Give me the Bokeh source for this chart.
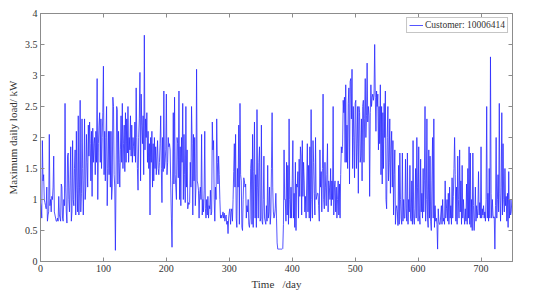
from bokeh.plotting import figure
from bokeh.models import Range1d, LinearAxis, FixedTicker, Legend, LegendItem
from bokeh.embed import file_html
from bokeh.resources import INLINE

series_label = "Customer: 10006414"
x_label = "Time\u00a0\u00a0\u00a0/day"
y_label = "Maximum daily load/ kW"
x_ticks = [0, 100, 200, 300, 400, 500, 600, 700]
y_ticks = [0, 0.5, 1, 1.5, 2, 2.5, 3, 3.5, 4]

# daily maximum load (kW), 10 days per row
load = [
    0.95, 0.9, 0.7, 1.95, 1.3, 1.4, 1.0, 0.95, 0.9, 0.85,
    1.2, 0.65, 0.75, 0.8, 2.05, 0.9, 1.0, 0.8, 1.05, 1.0,
    1.2, 1.7, 0.8, 0.75, 0.7, 0.65, 0.65, 0.7, 0.65, 1.05,
    0.75, 0.7, 0.65, 1.25, 1.2, 0.7, 0.65, 1.0, 0.9, 2.55,
    1.2, 0.8, 0.62, 1.7, 1.75, 1.0, 0.8, 1.3, 1.85, 0.65,
    0.8, 1.95, 1.0, 0.9, 1.5, 1.8, 0.75, 2.1, 1.2, 0.8,
    2.35, 0.75, 1.2, 2.6, 0.8, 1.1, 2.3, 1.5, 0.75, 1.3,
    2.3, 1.0, 1.2, 2.05, 1.6, 1.2, 2.2, 1.7, 2.25, 1.9,
    1.3, 2.1, 1.05, 2.15, 1.6, 1.9, 2.0, 1.4, 2.1, 1.6,
    2.95, 1.0, 1.9, 2.2, 2.4, 1.6, 2.3, 1.5, 2.0, 2.4,
    3.15, 1.4, 2.1, 1.3, 2.0, 2.5, 0.9, 1.5, 2.1, 1.4,
    2.1, 1.2, 2.1, 1.0, 1.2, 2.65, 2.5, 1.4, 1.2, 0.18,
    1.3, 2.5, 2.45, 1.25, 2.1, 1.6, 1.2, 1.8, 2.35, 1.6,
    2.55, 1.5, 1.9, 2.2, 1.45, 2.4, 1.6, 2.3, 1.75, 2.5,
    1.6, 2.0, 1.8, 2.35, 1.7, 2.2, 1.6, 2.0, 1.85, 1.7,
    2.25, 1.6, 2.8, 2.0, 1.5, 1.15, 2.0, 2.3, 3.05, 1.3,
    2.7, 2.2, 1.9, 2.35, 1.4, 3.65, 1.8, 2.3, 2.0, 2.4,
    1.6, 2.1, 1.5, 1.9, 0.75, 2.0, 1.6, 2.1, 1.2, 1.9,
    1.3, 2.0, 1.5, 1.85, 1.4, 1.7, 1.95, 1.5, 1.4, 1.6,
    1.9, 2.35, 1.5, 0.95, 2.0, 1.45, 2.75, 1.5, 1.6, 1.8,
    2.7, 1.4, 1.6, 2.0, 1.85, 1.9, 1.8, 1.2, 0.7, 0.23,
    1.3, 2.4, 1.25, 2.65, 1.4, 1.2, 1.0, 2.0, 1.9, 1.35,
    2.75, 1.0, 1.85, 0.9, 2.0, 1.6, 2.55, 1.0, 2.05, 1.4,
    0.95, 2.5, 1.2, 1.8, 0.85, 0.95, 0.92, 0.95, 1.6, 1.2,
    2.5, 1.9, 0.75, 2.05, 1.3, 2.0, 0.9, 1.2, 3.1, 1.3,
    1.25, 1.15, 0.7, 1.1, 1.2, 1.0, 2.05, 0.75, 1.0, 0.8,
    1.15, 2.1, 0.85, 0.7, 1.0, 0.75, 1.05, 0.7, 0.9, 0.85,
    1.15, 0.75, 0.8, 2.25, 1.8, 1.95, 1.0, 0.65, 1.2, 1.0,
    2.3, 1.6, 1.25, 1.7, 1.4, 1.0, 0.7, 0.75, 0.7, 0.75,
    0.8, 0.7, 0.78, 0.65, 0.72, 0.75, 0.6, 0.65, 0.45, 0.7,
    0.8, 0.85, 0.6, 0.8, 0.85, 0.65, 1.0, 1.45, 1.9, 1.2,
    2.05, 0.7, 0.55, 1.5, 1.2, 2.2, 0.6, 2.55, 1.4, 1.3,
    0.55, 0.5, 1.0, 1.35, 1.3, 1.2, 1.25, 0.7, 0.9, 0.8,
    1.0, 0.6, 0.55, 0.7, 1.5, 1.65, 0.6, 2.05, 0.55, 1.45,
    2.25, 0.7, 1.4, 0.55, 2.45, 1.2, 0.7, 1.6, 1.85, 0.65,
    0.7, 2.2, 0.65, 0.6, 1.0, 1.7, 0.7, 0.65, 0.6, 0.9,
    0.65, 1.55, 0.7, 0.8, 1.2, 0.6, 0.75, 1.5, 2.4, 1.2,
    0.8, 0.7, 0.75, 0.85, 1.1, 0.7, 0.3, 0.2, 0.2, 0.2,
    0.2, 0.2, 0.2, 0.2, 0.2, 0.21, 0.6, 1.8, 1.0, 1.0,
    0.65, 1.6, 0.75, 1.55, 0.6, 2.3, 1.0, 0.7, 1.2, 0.7,
    1.3, 1.95, 0.7, 1.1, 0.55, 1.6, 0.5, 1.25, 1.2, 1.45,
    0.7, 1.65, 1.05, 1.85, 1.7, 0.75, 1.95, 1.05, 1.6, 1.3,
    0.8, 1.05, 0.7, 1.25, 1.9, 0.8, 1.55, 0.7, 1.85, 0.65,
    2.45, 1.0, 0.7, 1.95, 1.6, 1.1, 0.75, 2.0, 1.0, 1.05,
    1.1, 1.1, 0.9, 0.65, 1.8, 1.2, 1.45, 0.8, 1.5, 2.7,
    1.0, 0.85, 1.6, 1.2, 0.9, 1.4, 1.9, 0.8, 1.3, 1.2,
    1.0, 1.5, 0.9, 1.3, 1.0, 2.5, 0.75, 1.2, 1.3, 0.8,
    1.2, 0.7, 1.0, 1.3, 0.75, 1.25, 0.7, 1.4, 1.85, 1.75,
    1.85, 2.6, 2.4, 2.65, 1.6, 2.85, 1.6, 2.2, 1.5, 2.55,
    2.8, 1.25, 2.9, 2.95, 2.3, 3.1, 1.5, 2.5, 2.0, 1.35,
    2.55, 2.6, 1.5, 1.9, 2.5, 1.1, 2.5, 2.4, 1.6, 1.7,
    2.3, 1.3, 2.5, 2.6, 1.6, 2.3, 2.95, 2.0, 2.35, 3.2,
    2.25, 2.5, 2.35, 1.05, 2.4, 2.85, 2.5, 2.65, 2.7, 2.6,
    2.7, 3.5, 2.65, 2.1, 2.75, 2.5, 2.7, 1.8, 2.5, 1.9,
    2.85, 1.4, 2.5, 1.25, 2.4, 1.5, 2.55, 2.0, 2.75, 1.0,
    0.85, 2.0, 2.5, 1.3, 1.6, 2.3, 1.1, 1.8, 2.1, 1.2,
    1.95, 0.75, 1.4, 1.8, 0.6, 0.85, 0.9, 0.8, 0.58, 1.55,
    0.6, 1.75, 1.0, 0.7, 0.6, 1.75, 0.65, 1.0, 0.7, 0.7,
    1.65, 0.85, 0.65, 1.75, 0.6, 1.0, 0.8, 1.55, 0.7, 0.65,
    1.3, 0.6, 1.95, 0.7, 0.6, 0.85, 1.5, 0.7, 2.0, 1.2,
    0.65, 1.85, 0.75, 0.6, 1.65, 0.8, 1.1, 0.7, 1.5, 0.8,
    1.3, 2.5, 0.65, 1.0, 2.3, 0.7, 0.55, 1.8, 0.7, 1.7,
    0.65, 0.5, 1.3, 2.0, 0.7, 2.3, 0.55, 0.9, 0.65, 0.7,
    0.6, 0.2, 0.85, 0.65, 0.6, 0.6, 0.75, 0.9, 0.6, 1.0,
    0.65, 0.7, 0.6, 1.3, 0.7, 0.85, 1.0, 0.65, 1.1, 0.6,
    1.2, 0.7, 0.9, 0.6, 1.35, 0.7, 1.05, 1.5, 2.0, 1.4,
    0.65, 1.2, 0.6, 1.7, 1.0, 0.7, 1.8, 0.8, 1.3, 0.6,
    1.55, 0.7, 1.0, 0.75, 0.6, 0.85, 0.65, 1.25, 0.6, 1.5,
    0.7, 1.85, 0.6, 1.75, 0.55, 1.0, 0.5, 1.75, 0.9, 0.5,
    0.7, 1.2, 0.65, 0.9, 0.7, 0.85, 1.45, 0.75, 0.95, 0.7,
    1.85, 0.7, 0.85, 0.75, 0.9, 0.7, 0.8, 0.65, 1.0, 2.5,
    0.7, 1.1, 0.65, 1.5, 0.7, 3.3, 1.1, 0.7, 1.0, 0.75,
    0.7, 0.72, 0.2, 0.9, 2.0, 0.7, 1.0, 1.4, 0.8, 2.55,
    1.1, 0.65, 1.2, 2.4, 0.75, 1.9, 1.0, 0.8, 1.5, 0.9,
    1.05, 0.65, 1.1, 0.55, 1.45, 0.7, 1.0, 0.75, 0.8, 1.0,
]
days = list(range(len(load)))

FONT = "Liberation Serif"
FRAME = "#8c8c8c"
TEXT = "#333333"

p = figure(width=550, height=296, output_backend="svg", toolbar_location=None,
           x_range=Range1d(0, 750), y_range=Range1d(0, 4),
           min_border_left=40, min_border_right=38, min_border_top=13, min_border_bottom=35)
p.grid.visible = False
p.outline_line_color = FRAME
p.background_fill_color = "white"

line = p.line(days, load, line_color="#2a2aff", line_width=0.8)

for ax in (p.xaxis[0], p.yaxis[0]):
    ax.axis_line_color = FRAME
    ax.major_tick_line_color = FRAME
    ax.major_tick_in = 4
    ax.major_tick_out = 0
    ax.minor_tick_line_color = None
    ax.major_label_text_font = FONT
    ax.major_label_text_font_size = "10px"
    ax.major_label_text_color = TEXT
    ax.axis_label_text_font = FONT
    ax.axis_label_text_font_size = "11px"
    ax.axis_label_text_font_style = "normal"
    ax.axis_label_text_color = TEXT
    ax.major_label_standoff = 3
    ax.axis_label_standoff = 3

p.xaxis[0].ticker = FixedTicker(ticks=x_ticks)
p.yaxis[0].ticker = FixedTicker(ticks=y_ticks)
p.yaxis[0].major_label_overrides = {v: ("%g" % v) for v in y_ticks}
p.xaxis[0].axis_label = x_label
p.yaxis[0].axis_label = y_label

top = LinearAxis(ticker=FixedTicker(ticks=x_ticks))
right = LinearAxis(ticker=FixedTicker(ticks=y_ticks))
top.major_label_overrides = {v: "" for v in x_ticks}
right.major_label_overrides = {v: "" for v in y_ticks}
for ax in (top, right):
    ax.axis_line_color = FRAME
    ax.major_tick_line_color = FRAME
    ax.major_tick_in = 4
    ax.major_tick_out = 0
    ax.minor_tick_line_color = None
    ax.major_label_text_font_size = "10px"
    ax.major_label_standoff = 0
p.add_layout(top, "above")
p.add_layout(right, "right")

legend = Legend(items=[LegendItem(label=series_label, renderers=[line])],
                location="top_right", orientation="vertical")
legend.label_text_font = FONT
legend.label_text_font_size = "9.5px"
legend.label_text_color = TEXT
legend.border_line_color = FRAME
legend.border_line_width = 1
legend.background_fill_color = "white"
legend.background_fill_alpha = 1
legend.glyph_width = 14
legend.glyph_height = 10
legend.label_standoff = 2
legend.padding = 2
legend.margin = 4
legend.spacing = 0
legend.label_height = 10
p.add_layout(legend)

open("out.html", "w").write(file_html(p, INLINE))
